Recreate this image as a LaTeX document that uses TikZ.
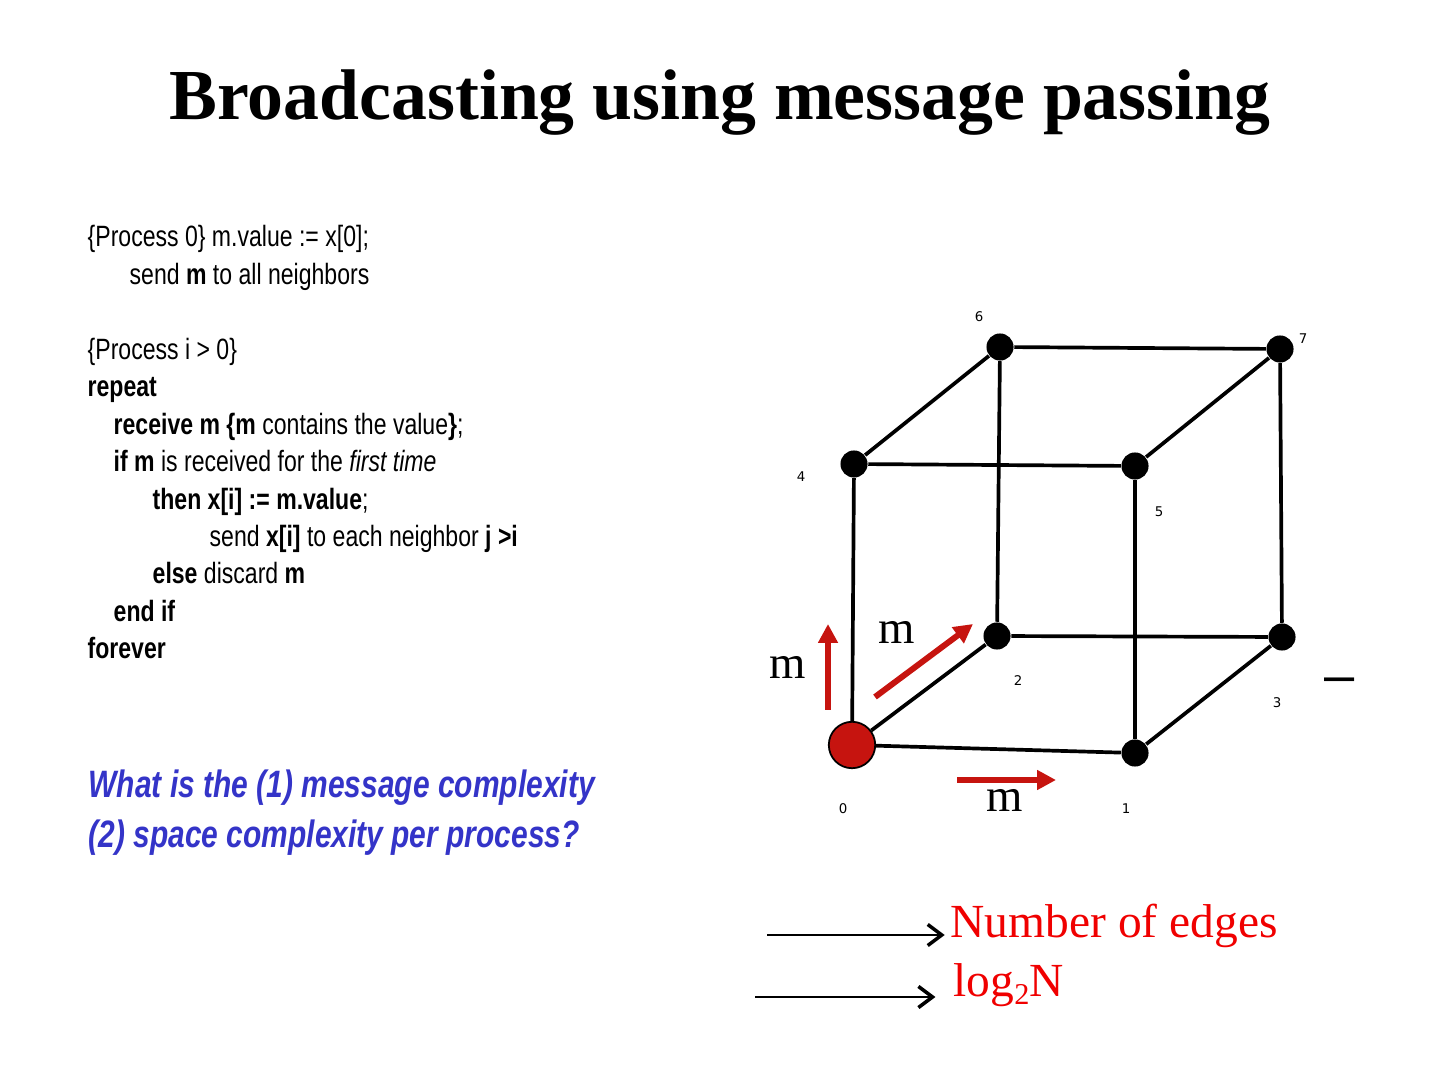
\documentclass[tikz,border=0pt]{standalone}
\usepackage{fontspec}
\setmainfont{Liberation Serif}
\setsansfont{Liberation Sans}
\newfontfamily\codefont[FakeStretch=0.785]{Liberation Sans}
\newfontfamily\numfont{DejaVu Sans}
\usetikzlibrary{arrows.meta}
\definecolor{srcred}{HTML}{C6140F}
\definecolor{askblue}{HTML}{3434C8}
\definecolor{ansred}{HTML}{F00000}

\begin{document}
\begin{tikzpicture}[
    x=0.01cm, y=-0.01cm,
    vertex/.style={circle, fill=black, inner sep=0pt, minimum size=7.7pt},
    source/.style={circle, fill=srcred, draw=black, line width=0.5pt, inner sep=0pt, minimum size=13.2pt},
    cube/.style={line width=1.05pt},
    num/.style={font=\numfont\fontsize{3.8}{4}\selectfont, inner sep=0pt},
    code/.style={font=\codefont\fontsize{8.35}{10}\selectfont, anchor=base west, inner sep=0pt},
    ask/.style={code, font=\codefont\fontsize{10.85}{12}\selectfont\bfseries\itshape, text=askblue},
    msg/.style={-{Triangle[length=5.4pt,width=5.4pt]}, line width=1.7pt, draw=srcred},
    mlbl/.style={font=\fontsize{13.3}{16}\selectfont, inner sep=0pt},
    ans/.style={font=\fontsize{13.5}{16}\selectfont, text=ansred, anchor=base west, inner sep=0pt},
    arr/.style={-{Straight Barb[length=4pt,width=6pt,line width=1pt]}, line width=0.55pt}
]
    \useasboundingbox (0,0) rectangle (1440,1080);

    \node[font=\bfseries\fontsize{20.4}{24}\selectfont, anchor=base] (title) at (720,120) {Broadcasting using message passing};

    % algorithm
    \node[code] (p0) at (87,247) {\{Process 0\} m.value := x[0];};
    \node[code] (p0send) at (129,285) {send \textbf{m} to all neighbors};
    \node[code] (pi) at (87,360) {\{Process i > 0\}};
    \node[code] (rep) at (87,397) {\textbf{repeat}};
    \node[code] (recv) at (113,435) {\textbf{receive m \{m} contains the value\textbf{\}};};
    \node[code] (ifm) at (113,472) {\textbf{if m} is received for the \textit{first time}};
    \node[code] (thenx) at (152,510) {\textbf{then x[i] := m.value};};
    \node[code] (sendx) at (209,547) {send \textbf{x[i]} to each neighbor \textbf{j >i}};
    \node[code] (elsem) at (152,584) {\textbf{else} discard \textbf{m}};
    \node[code] (endif) at (113,622) {\textbf{end if}};
    \node[code] (forev) at (87,659) {\textbf{forever}};

    \node[ask] (q1) at (88,797) {What is the (1) message complexity};
    \node[ask] (q2) at (88,847) {(2) space complexity per process?};

    % hypercube
    \node[vertex] (v6) at (1000,347) {};
    \node[vertex] (v7) at (1280,349) {};
    \node[vertex] (v4) at (854,464) {};
    \node[vertex] (v5) at (1135,466) {};
    \node[vertex] (v2) at (997,636) {};
    \node[vertex] (v3) at (1282,637) {};
    \node[vertex] (v1) at (1135,753) {};
    \node[source] (v0) at (852,745) {};

    \draw[cube] (v4) -- (v5) -- (v7) -- (v6) -- (v4);
    \draw[cube] (v0) -- (v1) -- (v3) -- (v2) -- (v0);
    \draw[cube] (v4) -- (v0) (v6) -- (v2) (v5) -- (v1) (v7) -- (v3);

    \node[num] (l0) at (843,809) {0};
    \node[num] (l1) at (1126,809) {1};
    \node[num] (l2) at (1018,681) {2};
    \node[num] (l3) at (1277,703) {3};
    \node[num] (l4) at (801,477) {4};
    \node[num] (l5) at (1159,512) {5};
    \node[num] (l6) at (979,317) {6};
    \node[num] (l7) at (1303,339) {7};

    % messages from process 0
    \coordinate (up0) at (828,710);
    \coordinate (up1) at (828,624);
    \coordinate (dg0) at (875,697);
    \coordinate (dg1) at (973,624);
    \coordinate (rt0) at (957,780);
    \coordinate (rt1) at (1056,780);
    \draw[msg] (up0) -- (up1);
    \draw[msg] (dg0) -- (dg1);
    \draw[msg] (rt0) -- (rt1);
    \node[mlbl] (mup) at (788,667) {m};
    \node[mlbl] (mdg) at (897,632) {m};
    \node[mlbl] (mrt) at (1005,800) {m};

    \node[font=\sffamily\fontsize{15.4}{18}\selectfont, anchor=base, inner sep=0pt] (dash) at (1340,694) {–};

    % answers
    \node[ans] (edges) at (950,937) {Number of edges};
    \node[ans] (logn) at (953,996) {log\raisebox{-2.4pt}{\fontsize{8.6}{9}\selectfont 2}N};
    \coordinate (a1) at (767,935);
    \coordinate (a2) at (755,997);
    \draw[arr, shorten >=1.5pt] (a1) -- (a1 -| edges.west);
    \draw[arr, shorten >=5pt] (a2) -- (a2 -| logn.west);
\end{tikzpicture}
\end{document}
